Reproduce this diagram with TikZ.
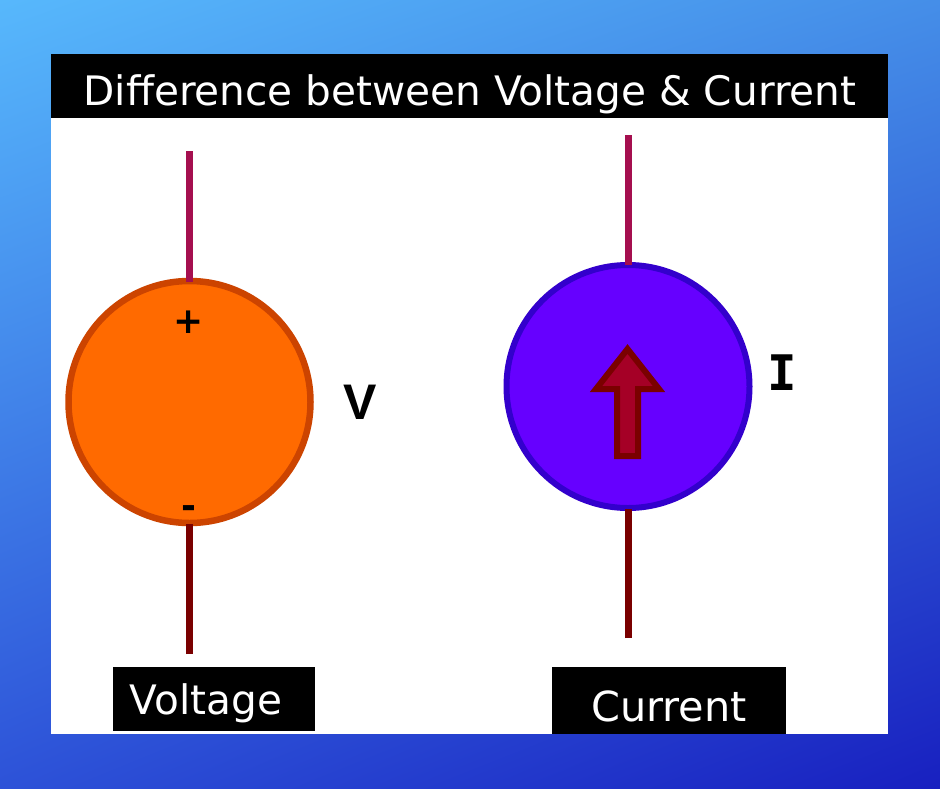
\documentclass[tikz,border=0pt]{standalone}
\usepackage{fontspec}
\usetikzlibrary{shadings}
\setmainfont{DejaVu Sans}
\newfontfamily\monofont{DejaVu Sans Mono}
\newfontfamily\namefont{Liberation Sans}
\definecolor{skytop}{HTML}{57B8FC}
\definecolor{skyright}{HTML}{458EE8}
\definecolor{skyleft}{HTML}{2D52D8}
\definecolor{skybottom}{HTML}{1820C0}
\definecolor{wiretop}{HTML}{A50F4F}
\definecolor{wirebottom}{HTML}{7A0000}
\tikzset{
  source/.style={circle, inner sep=0pt, outer sep=0pt, line width=6.5pt},
  wire/.style={line width=7pt},
  labelbox/.style={fill=black, inner sep=0pt},
  labeltext/.style={text=white, inner sep=0pt, font=\fontsize{40.6}{41}\selectfont},
  signtext/.style={inner sep=0pt, font=\bfseries\fontsize{36}{36}\selectfont},
}
\begin{document}
\begin{tikzpicture}[x=1pt, y=-1pt]
  \useasboundingbox (0,0) rectangle (940,788);

  % background and panel
  \shade[upper left=skytop, upper right=skyright, lower left=skyleft, lower right=skybottom] (0,0) rectangle (940,788);
  \fill[white] (51,54) rectangle (888,734);
  \node[labelbox, minimum width=837pt, minimum height=64pt] (titlebox) at (469.5,86) {};
  \node[labeltext] (titletext) at (470,94) {Dif{}ference between Voltage \& Current};

  % voltage side
  \coordinate (vtop) at (189.5,151);
  \coordinate (vbottom) at (189.5,654);
  \node[source, minimum size=242pt, draw={rgb,255:red,204;green,68;blue,0}, fill={rgb,255:red,255;green,106;blue,0}] (vsource) at (189.5,402) {};
  \draw[wire, wiretop] (vtop) -- ([yshift=-1pt]vsource.north);
  \draw[wire, wirebottom] (vbottom) -- ([yshift=-1pt]vsource.south);
  \node[signtext] (vplus) at (189,322) {+};
  \node[signtext] (vminus) at (188.5,512) {-};
  \node[inner sep=0pt, font=\namefont\bfseries\fontsize{50}{50}\selectfont] (vname) at (360,402) {V};
  \node[labelbox, minimum width=202pt, minimum height=64pt] (vbox) at (214,699) {};
  \node[labeltext] (vtext) at (206,703) {Voltage};

  % current side
  \coordinate (itop) at (628,135);
  \coordinate (ibottom) at (628,638);
  \node[source, line width=6pt, minimum size=243pt, draw={rgb,255:red,51;green,0;blue,204}, fill={rgb,255:red,102;green,0;blue,255}] (isource) at (628,386.5) {};
  \draw[wire, wiretop] (itop) -- (isource.north);
  \draw[wire, wirebottom] (ibottom) -- ([yshift=-1pt]isource.south);
  \draw[line width=6pt, draw=wirebottom, fill={rgb,255:red,165;green,0;blue,38}] (627.5,349) -- (659,389) -- (638,389) -- (638,456) -- (617,456) -- (617,389) -- (596,389) -- cycle;
  \node[inner sep=0pt, font=\monofont\bfseries\fontsize{49}{49}\selectfont] (iname) at (782,373) {I};
  \node[labelbox, minimum width=234pt, minimum height=67pt] (ibox) at (669,700.5) {};
  \node[labeltext, font=\fontsize{41.4}{42}\selectfont] (itext) at (669,706) {Current};
\end{tikzpicture}
\end{document}
